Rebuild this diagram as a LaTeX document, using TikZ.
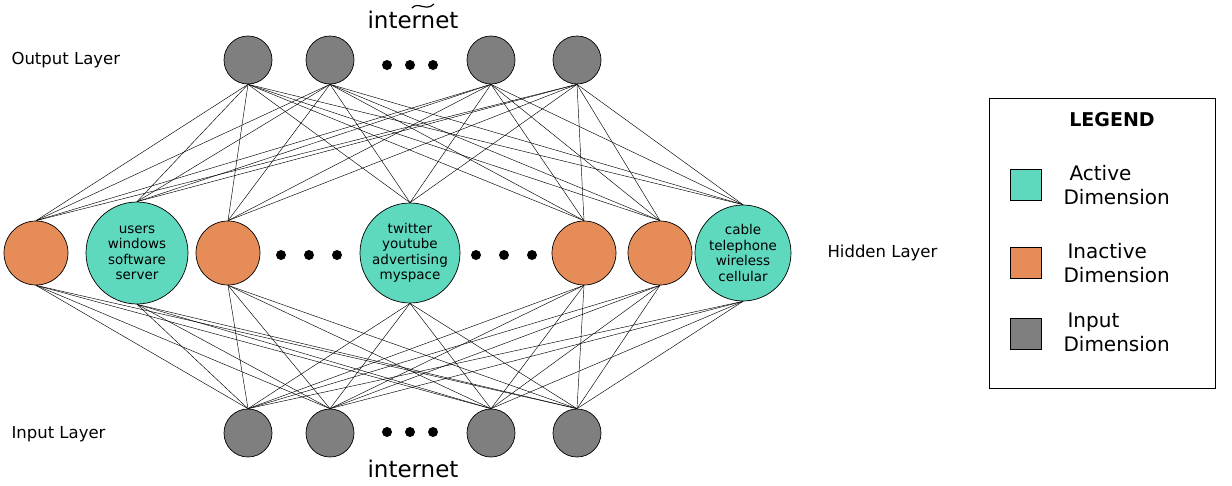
\documentclass[tikz,border=0pt]{standalone}
\usepackage{fontspec}
\setmainfont{DejaVu Sans}
\begin{document}
\begin{tikzpicture}[x=1pt,y=-1pt,
  neur/.style={circle,draw=black,line width=0.7pt,inner sep=0pt},
  io/.style={neur,fill=gryc,minimum size=48pt},
  ina/.style={neur,fill=orgc,minimum size=64pt},
  act/.style={neur,fill=tealc,align=center,font=\fontsize{13.5}{15.5}\selectfont},
  dot/.style={circle,fill=black,inner sep=0pt,minimum size=10pt},
  lbl/.style={font=\fontsize{16.5}{19}\selectfont},
  leg/.style={font=\fontsize{20}{24}\selectfont,align=left,anchor=west},
  sq/.style={draw=black,line width=0.8pt,minimum size=31pt,inner sep=0pt},
  conn/.style={line width=0.45pt}]
\definecolor{tealc}{HTML}{5FD9BE}
\definecolor{orgc}{HTML}{E68C58}
\definecolor{gryc}{HTML}{7F7F7F}
\useasboundingbox (0,0) rectangle (1232,485);
% output
\node[io] (o1) at (248,60) {};
\node[io] (o2) at (330,60) {};
\node[io] (o3) at (491,60) {};
\node[io] (o4) at (577,60) {};
% input
\node[io] (i1) at (248,433) {};
\node[io] (i2) at (330,433) {};
\node[io] (i3) at (491,433) {};
\node[io] (i4) at (577,433) {};
% hidden
\node[ina] (h1) at (36,253) {};
\node[act,minimum size=102pt] (h2) at (137,253) {users\\windows\\software\\server};
\node[ina] (h3) at (228,253) {};
\node[act,minimum size=100pt] (h4) at (410,253) {twitter\\youtube\\advertising\\myspace};
\node[ina] (h5) at (584,253) {};
\node[ina] (h6) at (660,253) {};
\node[act,minimum size=96pt] (h7) at (743,253) {cable\\telephone\\wireless\\cellular};
% connections
\foreach \o in {o1,o2,o3,o4}{
  \foreach \h in {h1,h2,h3,h4,h5,h6,h7}{
    \draw[conn] (\o.south) -- (\h.north);}}
\foreach \i in {i1,i2,i3,i4}{
  \foreach \h in {h1,h2,h3,h4,h5,h6,h7}{
    \draw[conn] (\i.north) -- (\h.south);}}
% dots
\foreach \x [count=\k] in {387,410,433}{
  \node[dot] (dt\k) at (\x,65) {};
  \node[dot] (db\k) at (\x,432) {};}
\foreach \x [count=\k] in {281,309,337}{\node[dot] (dl\k) at (\x,255) {};}
\foreach \x [count=\k] in {476,504,532}{\node[dot] (dr\k) at (\x,255) {};}
% labels
\node[font=\fontsize{23}{26}\selectfont] (tin) at (413,20) {internet};
\draw[line width=1.2pt] (412,8) .. controls (418,1) and (426,12) .. (434,4);
\node[font=\fontsize{23}{26}\selectfont] (bin) at (413,469) {internet};
\node[lbl,anchor=west] (ol) at (8,60) {Output Layer};
\node[lbl,anchor=west] (il) at (8,434) {Input Layer};
\node[lbl,anchor=west] (hl) at (824,253) {Hidden Layer};
% legend
\draw[line width=0.9pt] (989,98) rectangle (1215,388);
\node[font=\bfseries\fontsize{19}{22}\selectfont] (lt) at (1112,120) {LEGEND};
\node[sq,fill=tealc] (s1) at (1026,185) {};
\node[sq,fill=orgc] (s2) at (1026,263) {};
\node[sq,fill=gryc] (s3) at (1026,334) {};
\node[leg] (t1) at (1060,185) {\hspace{6pt}Active\\Dimension};
\node[leg] (t2) at (1060,263) {\hspace{4pt}Inactive\\Dimension};
\node[leg] (t3) at (1060,332) {\hspace{4pt}Input\\Dimension};
\end{tikzpicture}
\end{document}
